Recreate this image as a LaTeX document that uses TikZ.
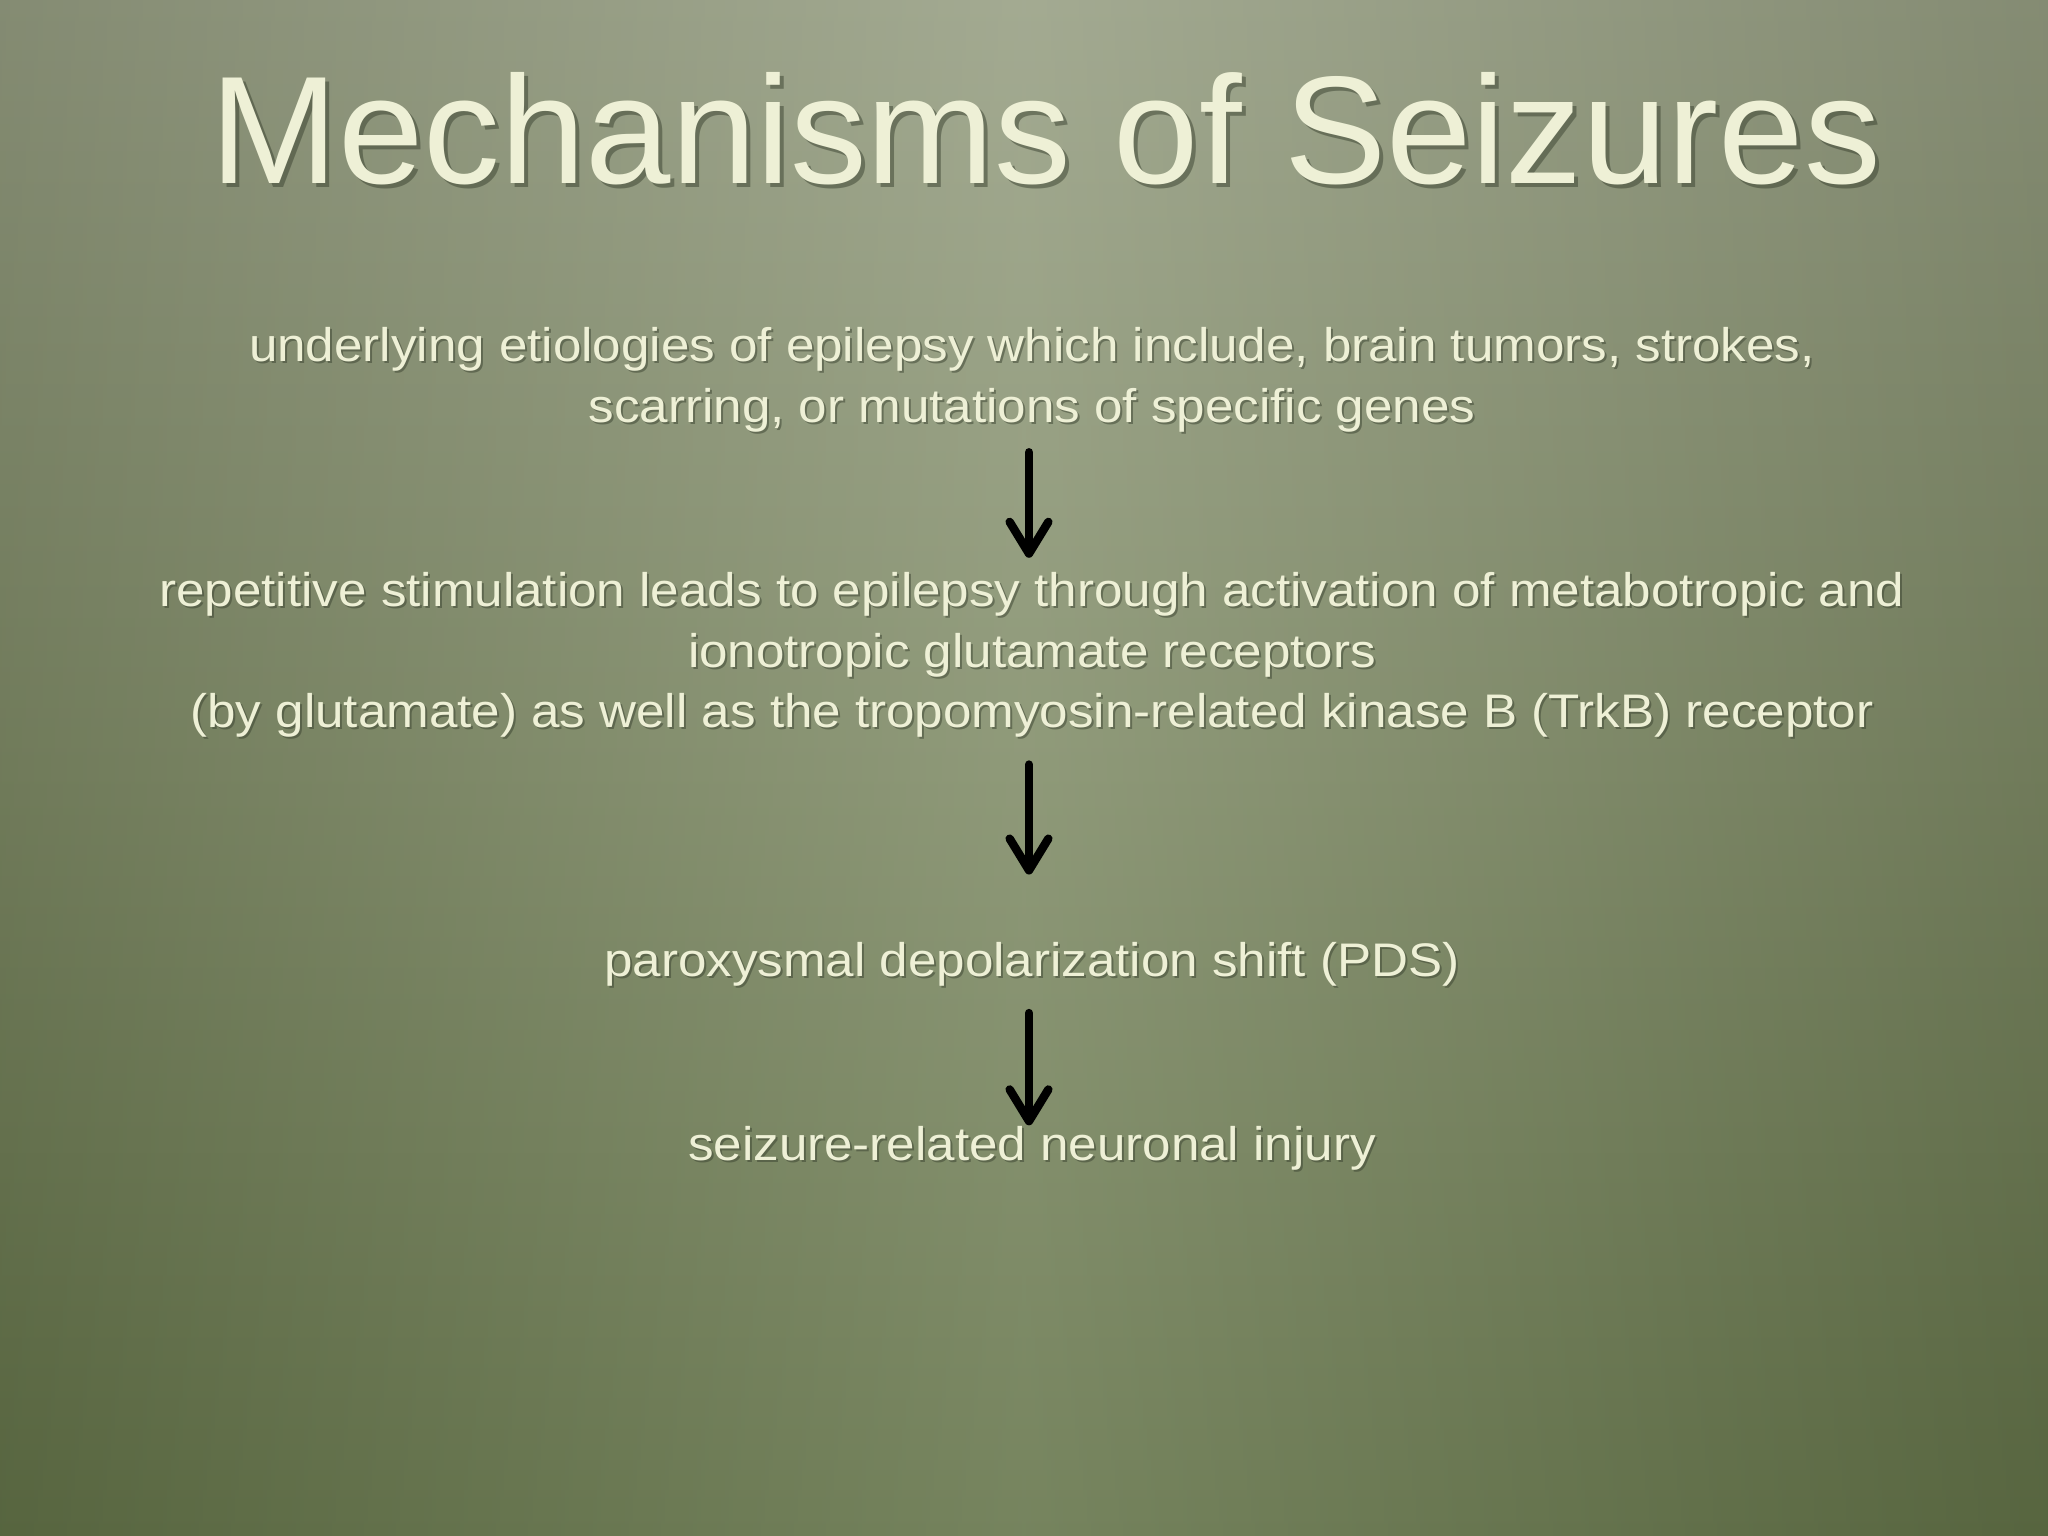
\documentclass[tikz,border=0pt]{standalone}
\usepackage{fontspec}
\setmainfont{Liberation Sans}
\newfontfamily\bodyfont[FakeStretch=1.085]{Liberation Sans}
\usetikzlibrary{arrows.meta,positioning}

\definecolor{bgtop}{HTML}{979F83}
\definecolor{bgmid}{HTML}{808C67}
\definecolor{bgbot}{HTML}{637348}
\definecolor{cream}{HTML}{EEF0D6}
\definecolor{shadowc}{HTML}{3A4230}

\tikzset{
  txt/.style={text=cream, align=center, inner sep=0pt,
    font=\bodyfont\fontsize{13.4}{17.2}\selectfont},
  txtshadow/.style={txt, text=shadowc, text opacity=0.5},
  flow/.style={line width=2.4pt, line cap=round, line join=round,
    -{Straight Barb[length=9pt,width=11pt,line cap=round,line join=round]}},
}

\begin{document}
\begin{tikzpicture}[x=0.01cm,y=-0.01cm]
    \useasboundingbox (0,0) rectangle (2048,1536);
    % background
    \shade[top color=bgtop, bottom color=bgbot, middle color=bgmid] (0,0) rectangle (2048,1536);
    \shade[left color=black, right color=black, middle color=white, opacity=0.12] (0,0) rectangle (2048,1536);

    % title
    \node[txtshadow, font=\fontsize{43.6}{50}\selectfont, anchor=base] (titles) at (1050,187) {Mechanisms of Seizures};
    \node[txt, font=\fontsize{43.6}{50}\selectfont, anchor=base] (title) at (1046,183) {Mechanisms of Seizures};

    % steps
    \node[txtshadow] (s1s) at (1034,382) {underlying etiologies of epilepsy which include, brain tumors, strokes,\\ scarring, or mutations of specific genes};
    \node[txt] (s1) at (1032,380) {underlying etiologies of epilepsy which include, brain tumors, strokes,\\ scarring, or mutations of specific genes};

    \node[txtshadow] (s2s) at (1034,657) {repetitive stimulation leads to epilepsy through activation of metabotropic and\\ ionotropic glutamate receptors\\ (by glutamate) as well as the tropomyosin-related kinase B (TrkB) receptor};
    \node[txt] (s2) at (1032,655) {repetitive stimulation leads to epilepsy through activation of metabotropic and\\ ionotropic glutamate receptors\\ (by glutamate) as well as the tropomyosin-related kinase B (TrkB) receptor};

    \node[txtshadow] (s3s) at (1034,966) {paroxysmal depolarization shift (PDS)};
    \node[txt] (s3) at (1032,964) {paroxysmal depolarization shift (PDS)};

    \node[txtshadow] (s4s) at (1034,1150) {seizure-related neuronal injury};
    \node[txt] (s4) at (1032,1148) {seizure-related neuronal injury};

    % arrows
    \draw[flow, shorten <=5.5pt, shorten >=4pt] (s1.south -| 1029,0) -- (s2.north -| 1029,0);
    \draw[flow, shorten <=7.5pt, shorten >=19pt] (s2.south -| 1029,0) -- (s3.north -| 1029,0);
    \draw[flow, shorten <=7.5pt, shorten >=0pt] (s3.south -| 1029,0) -- (s4.north -| 1029,0);
\end{tikzpicture}
\end{document}
